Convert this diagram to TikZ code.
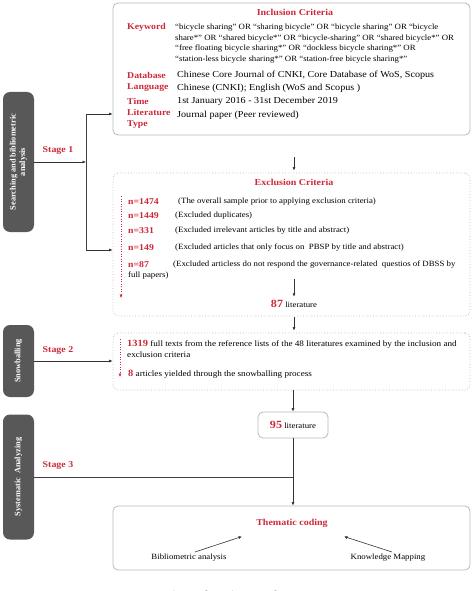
\documentclass[tikz,border=0pt]{standalone}
\usepackage{fontspec}
\setmainfont[FakeStretch=1.1]{Liberation Serif}
\newfontfamily\plainserif{Liberation Serif}
\usetikzlibrary{arrows.meta,calc}
\definecolor{cred}{RGB}{204,41,58}
\definecolor{cborder}{RGB}{185,185,185}
\definecolor{cdark}{RGB}{88,88,88}
\tikzset{
  solidbox/.style={draw=cborder, line width=0.8pt, rounded corners=5pt},
  dotbox/.style={draw=cborder, line width=0.8pt, dotted, rounded corners=5pt},
  stagebox/.style={fill=cdark, draw=none, rounded corners=7pt, minimum width=31pt, text=white, font=\plainserif\fontsize{8.3}{9.5}\selectfont\bfseries, align=center},
  stagelbl/.style={text=cred, font=\fontsize{9}{10}\selectfont\bfseries},
  ttl/.style={text=cred, font=\fontsize{9.1}{10}\selectfont\bfseries},
  lbl/.style={text=cred, font=\fontsize{8.9}{10}\selectfont\bfseries, anchor=west, inner sep=0pt},
  body/.style={font=\fontsize{8}{9}\selectfont, anchor=west, inner sep=0pt},
  bodyb/.style={font=\fontsize{9.2}{10}\selectfont, anchor=west, inner sep=0pt},
  arr/.style={-{Latex[length=3.5pt,width=3pt]}, line width=0.6pt, draw=black!80},
  ln/.style={line width=0.6pt, draw=black!75},
  redarr/.style={-{Latex[length=3.5pt,width=3pt]}, line width=0.5pt, draw=cred, dotted},
}
\newcommand{\rb}[1]{\textcolor{cred}{\textbf{#1}}}
\begin{document}
\begin{tikzpicture}[x=1pt,y=-1pt]
\useasboundingbox (0,0) rectangle (474,591);

% boxes
\node[solidbox, minimum width=357pt, minimum height=132pt] (incl) at (291.5,69) {};
\node[dotbox, minimum width=357pt, minimum height=143pt] (excl) at (291.5,244.5) {};
\node[dotbox, minimum width=357pt, minimum height=57pt] (snow) at (291.5,361.5) {};
\node[solidbox, minimum width=70pt, minimum height=26pt, font=\fontsize{8}{9}\selectfont] (lit95) at (293,425) {\textcolor{cred}{\textbf{\fontsize{11}{12}\selectfont 95}} literature};
\node[solidbox, minimum width=357pt, minimum height=64pt] (them) at (291.5,538) {};

% stage boxes
\node[stagebox, minimum height=140pt] (s1) at (18.5,162) {\rotatebox{90}{\begin{tabular}{@{}c@{}}Searching and bibliometric\\analysis\end{tabular}}};
\node[stagebox, minimum height=72pt] (s2) at (18.5,361) {\rotatebox{90}{Snowballing}};
\node[stagebox, minimum height=125pt] (s3) at (18.5,477) {\rotatebox{90}{Systematic\ \ Analyzing}};

\node[stagelbl] (st1) at (58,151) {Stage 1};
\node[stagelbl] (st2) at (58,351) {Stage 2};
\node[stagelbl] (st3) at (58,466) {Stage 3};

% inclusion criteria
\node[ttl] (ititle) at (295,12) {Inclusion Criteria};
\node[lbl] (kw) at (127,27) {Keyword};
\node[font=\fontsize{8}{10.8}\selectfont, anchor=north west, inner sep=0pt, align=left] (kwt) at (175,23.5) {%
``bicycle sharing'' OR ``sharing bicycle'' OR ``bicycle sharing'' OR ``bicycle\\
share*'' OR ``shared bicycle*'' OR ``bicycle-sharing'' OR ``shared bicycle*'' OR\\
``free floating bicycle sharing*'' OR ``dockless bicycle sharing*'' OR\\
``station-less bicycle sharing*'' OR ``station-free bicycle sharing*''};
\node[lbl] (db) at (127,75) {Database};
\node[bodyb] (dbt) at (177,75) {Chinese Core Journal of CNKI, Core Database of WoS, Scopus};
\node[lbl] (lang) at (127,88) {Language};
\node[bodyb] (langt) at (177,88) {Chinese (CNKI); English (WoS and Scopus )};
\node[lbl] (time) at (127,101) {Time};
\node[bodyb] (timet) at (177,101) {1st January 2016 - 31st December 2019};
\node[lbl, anchor=north west, align=left, font=\fontsize{8.9}{11}\selectfont\bfseries] (lt) at (127,109.5) {Literature\\Type};
\node[bodyb] (ltt) at (177,115) {Journal paper (Peer reviewed)};

% exclusion criteria
\node[ttl] (etitle) at (294,182) {Exclusion Criteria};
\node[lbl] (n1) at (128,202) {n=1474};
\node[body] (t1) at (178,202) {(The overall sample prior to applying exclusion criteria)};
\node[lbl] (n2) at (128,216) {n=1449};
\node[body] (t2) at (175,216) {(Excluded duplicates)};
\node[lbl] (n3) at (128,231) {n=331};
\node[body] (t3) at (175,231) {(Excluded irrelevant articles by title and abstract)};
\node[lbl] (n4) at (128,248) {n=149};
\node[body] (t4) at (175,248) {(Excluded articles that only focus on\ \ PBSP by title and abstract)};
\node[lbl] (n5) at (128,265) {n=87};
\node[body] (t5) at (173,265) {(Excluded articless do not respond the governance-related\ \ questios of DBSS by};
\node[body] (t5b) at (128,276) {full papers)};
\node[font=\fontsize{8}{9}\selectfont] (lit87) at (294,304) {\textcolor{cred}{\textbf{\fontsize{11}{12}\selectfont 87}} literature};
\coordinate (a87) at (294,279);
\coordinate (ra1) at (121,196);
\coordinate (ra2) at (121,298);

% snowballing
\node[font=\fontsize{8.3}{11.5}\selectfont, anchor=north west, inner sep=0pt, align=left] (sn1) at (127,340) {\rb{\fontsize{9.5}{11}\selectfont 1319} full texts from the reference lists of the 48 literatures examined by the inclusion and\\exclusion criteria};
\node[body, font=\fontsize{8.3}{9}\selectfont] (sn2) at (128,374) {\rb{\fontsize{9.5}{11}\selectfont 8} articles yielded through the snowballing process};
\coordinate (rb1) at (120,339);
\coordinate (rb2) at (120,377);

% thematic
\node[ttl] (tc) at (292,523) {Thematic coding};
\node[font=\fontsize{8}{9}\selectfont] (bib) at (189,558) {Bibliometric analysis};
\node[font=\fontsize{8}{9}\selectfont] (km) at (388,558) {Knowledge Mapping};
\coordinate (bibs) at (195,552);
\coordinate (bibt) at (242,536.5);
\coordinate (kms) at (392,552);
\coordinate (kmt) at (344,536.5);

% caption (cut at bottom edge, as in the reference)
\node[font=\fontsize{9}{10}\selectfont\bfseries, anchor=north] (cap) at (229,587.5) {Fig. 1.\ \ The review procedure};

% connectors
\coordinate (j1) at (86,162);
\coordinate (j1t) at (86,114);
\coordinate (j1b) at (86,250);
\draw[arr] (s1.east |- j1) -- (j1);
\draw[ln] (j1t) -- (j1b);
\draw[arr] (j1t) -- (incl.west |- j1t);
\draw[arr] (j1b) -- (excl.west |- j1b);
\draw[arr, shorten <=22pt, shorten >=2pt] (incl.south -| lit87) -- (excl.north -| lit87);
\draw[arr] (a87) -- (lit87.north);
\draw[redarr] (ra1) -- (ra2);
\draw[arr, shorten <=1pt, shorten >=2pt] (excl.south -| lit87) -- (snow.north -| lit87);
\draw[redarr] (rb1) -- (rb2);
\draw[arr] (s2.east) -- (snow.west |- s2.east);
\draw[arr] (snow.south -| lit95) -- (lit95.north);
\draw[arr] (lit95.south) -- (them.north -| lit95);
\draw[ln] (s3.east) -- (s3.east -| lit95);
\draw[arr] (bibs) -- (bibt);
\draw[arr] (kms) -- (kmt);
\end{tikzpicture}
\end{document}
